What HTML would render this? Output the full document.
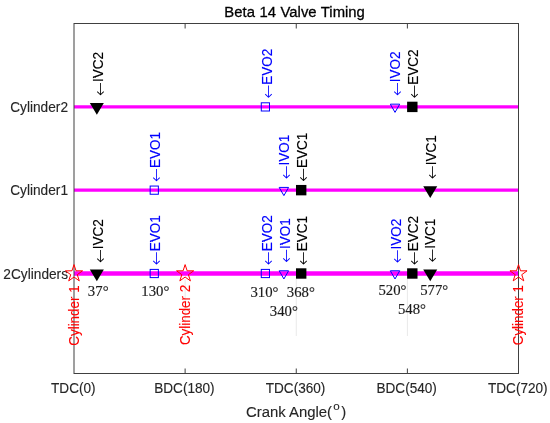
<!DOCTYPE html>
<html lang="en"><head><meta charset="utf-8"><title>Beta 14 Valve Timing</title>
<style>html,body{margin:0;padding:0;background:#fff}body{width:550px;height:423px;overflow:hidden}svg{display:block}text{font-family:"Liberation Sans",sans-serif;font-size:13.33px;fill:#262626;stroke:#262626;stroke-width:0.12px}.deg{font-family:"Liberation Serif",serif;font-size:14px;fill:#1a1a1a;stroke:#1a1a1a;stroke-width:0.15px}.ar{font-family:"DejaVu Sans Light","DejaVu Sans","Liberation Sans",sans-serif;font-weight:200;font-size:16.6px}</style></head><body>
<svg width="550" height="423" viewBox="0 0 550 423">
<rect x="0" y="0" width="550" height="423" fill="#ffffff"/>
<line x1="185.12" y1="279" x2="185.12" y2="336" stroke="#e9e9e9" stroke-width="1"/>
<line x1="296.25" y1="279" x2="296.25" y2="336" stroke="#e9e9e9" stroke-width="1"/>
<line x1="407.38" y1="279" x2="407.38" y2="336" stroke="#e9e9e9" stroke-width="1"/>
<line x1="74.0" y1="106.9" x2="518.5" y2="106.9" stroke="#ff00ff" stroke-width="3.2"/>
<line x1="74.0" y1="190.15" x2="518.5" y2="190.15" stroke="#ff00ff" stroke-width="3.2"/>
<line x1="74.0" y1="273.5" x2="518.5" y2="273.5" stroke="#ff00ff" stroke-width="4.4"/>
<rect x="74.0" y="23.5" width="444.5" height="350.0" fill="none" stroke="#404040" stroke-width="1"/>
<line x1="185.12" y1="373.5" x2="185.12" y2="368.5" stroke="#404040" stroke-width="1"/>
<line x1="185.12" y1="23.5" x2="185.12" y2="28.5" stroke="#404040" stroke-width="1"/>
<line x1="296.25" y1="373.5" x2="296.25" y2="368.5" stroke="#404040" stroke-width="1"/>
<line x1="296.25" y1="23.5" x2="296.25" y2="28.5" stroke="#404040" stroke-width="1"/>
<line x1="407.38" y1="373.5" x2="407.38" y2="368.5" stroke="#404040" stroke-width="1"/>
<line x1="407.38" y1="23.5" x2="407.38" y2="28.5" stroke="#404040" stroke-width="1"/>
<text transform="translate(294.6,17.3) scale(1,1.03)" text-anchor="middle" style="font-size:14.85px;word-spacing:0.45px;fill:#000;stroke:#000;stroke-width:0.28px">Beta 14 Valve Timing</text>
<text transform="translate(73.30,392.75) scale(1,1.015)" text-anchor="middle" style="font-size:13.6px">TDC(0)</text>
<text transform="translate(184.43,392.75) scale(1,1.015)" text-anchor="middle" style="font-size:13.6px">BDC(180)</text>
<text transform="translate(295.55,392.75) scale(1,1.015)" text-anchor="middle" style="font-size:13.6px">TDC(360)</text>
<text transform="translate(406.68,392.75) scale(1,1.015)" text-anchor="middle" style="font-size:13.6px">BDC(540)</text>
<text transform="translate(517.80,392.75) scale(1,1.015)" text-anchor="middle" style="font-size:13.6px">TDC(720)</text>
<text x="246.0" y="417.0" style="font-size:14.9px">Crank Angle(<tspan dx="1.1" dy="-6.9" style="font-size:11.6px">o</tspan><tspan dx="1.5" dy="6.9">)</tspan></text>
<text transform="translate(68.0,111.70) scale(1,1.03)" text-anchor="end" style="font-size:13.7px">Cylinder2</text>
<text transform="translate(68.0,195.05) scale(1,1.03)" text-anchor="end" style="font-size:13.7px">Cylinder1</text>
<text transform="translate(68.0,279.20) scale(1,1.03)" text-anchor="end" style="font-size:13.7px">2Cylinders</text>
<polygon points="89.84,102.97 103.84,102.97 96.84,114.77" fill="#000"/>
<text transform="translate(103.24,95.90) rotate(-90) scale(1,1.06)" style="fill:#000;stroke:#000;stroke-width:0.14px;font-size:13.5px"><tspan class="ar" dy="2.2" style="stroke:none">←</tspan><tspan dy="-2.2">IVC2</tspan></text>
<rect x="261.28" y="102.80" width="8.2" height="8.2" fill="none" stroke="#0000ff" stroke-width="1"/>
<text transform="translate(271.78,98.60) rotate(-90) scale(1,1.06)" style="fill:#0000ff;stroke:#0000ff;stroke-width:0.14px;font-size:13.5px"><tspan class="ar" dy="2.2" style="stroke:none">←</tspan><tspan dy="-2.2">EVO2</tspan></text>
<polygon points="390.33,104.17 399.73,104.17 395.03,112.37" fill="none" stroke="#0000ff" stroke-width="1"/>
<text transform="translate(400.33,96.10) rotate(-90) scale(1,1.06)" style="fill:#0000ff;stroke:#0000ff;stroke-width:0.14px;font-size:13.5px"><tspan class="ar" dy="2.2" style="stroke:none">←</tspan><tspan dy="-2.2">IVO2</tspan></text>
<rect x="407.11" y="101.70" width="10.4" height="10.4" fill="#000"/>
<text transform="translate(417.81,98.60) rotate(-90) scale(1,1.06)" style="fill:#000;stroke:#000;stroke-width:0.14px;font-size:13.5px"><tspan class="ar" dy="2.2" style="stroke:none">←</tspan><tspan dy="-2.2">EVC2</tspan></text>
<polygon points="89.84,269.57 103.84,269.57 96.84,281.37" fill="#000"/>
<text transform="translate(103.24,263.10) rotate(-90) scale(1,1.06)" style="fill:#000;stroke:#000;stroke-width:0.14px;font-size:13.5px"><tspan class="ar" dy="2.2" style="stroke:none">←</tspan><tspan dy="-2.2">IVC2</tspan></text>
<rect x="261.28" y="269.40" width="8.2" height="8.2" fill="none" stroke="#0000ff" stroke-width="1"/>
<text transform="translate(271.68,265.20) rotate(-90) scale(1,1.06)" style="fill:#0000ff;stroke:#0000ff;stroke-width:0.14px;font-size:13.5px"><tspan class="ar" dy="2.2" style="stroke:none">←</tspan><tspan dy="-2.2">EVO2</tspan></text>
<polygon points="390.33,270.77 399.73,270.77 395.03,278.97" fill="none" stroke="#0000ff" stroke-width="1"/>
<text transform="translate(400.63,263.30) rotate(-90) scale(1,1.06)" style="fill:#0000ff;stroke:#0000ff;stroke-width:0.14px;font-size:13.5px"><tspan class="ar" dy="2.2" style="stroke:none">←</tspan><tspan dy="-2.2">IVO2</tspan></text>
<rect x="407.11" y="268.30" width="10.4" height="10.4" fill="#000"/>
<text transform="translate(417.61,265.20) rotate(-90) scale(1,1.06)" style="fill:#000;stroke:#000;stroke-width:0.14px;font-size:13.5px"><tspan class="ar" dy="2.2" style="stroke:none">←</tspan><tspan dy="-2.2">EVC2</tspan></text>
<rect x="150.16" y="186.05" width="8.2" height="8.2" fill="none" stroke="#0000ff" stroke-width="1"/>
<text transform="translate(160.06,181.95) rotate(-90) scale(1,1.06)" style="fill:#0000ff;stroke:#0000ff;stroke-width:0.14px;font-size:13.5px"><tspan class="ar" dy="2.2" style="stroke:none">←</tspan><tspan dy="-2.2">EVO1</tspan></text>
<polygon points="279.20,187.42 288.60,187.42 283.90,195.62" fill="none" stroke="#0000ff" stroke-width="1"/>
<text transform="translate(289.20,179.35) rotate(-90) scale(1,1.06)" style="fill:#0000ff;stroke:#0000ff;stroke-width:0.14px;font-size:13.5px"><tspan class="ar" dy="2.2" style="stroke:none">←</tspan><tspan dy="-2.2">IVO1</tspan></text>
<rect x="295.99" y="184.95" width="10.4" height="10.4" fill="#000"/>
<text transform="translate(306.69,181.85) rotate(-90) scale(1,1.06)" style="fill:#000;stroke:#000;stroke-width:0.14px;font-size:13.5px"><tspan class="ar" dy="2.2" style="stroke:none">←</tspan><tspan dy="-2.2">EVC1</tspan></text>
<polygon points="423.22,186.22 437.22,186.22 430.22,198.02" fill="#000"/>
<text transform="translate(435.72,179.15) rotate(-90) scale(1,1.06)" style="fill:#000;stroke:#000;stroke-width:0.14px;font-size:13.5px"><tspan class="ar" dy="2.2" style="stroke:none">←</tspan><tspan dy="-2.2">IVC1</tspan></text>
<rect x="150.16" y="269.40" width="8.2" height="8.2" fill="none" stroke="#0000ff" stroke-width="1"/>
<text transform="translate(160.06,265.20) rotate(-90) scale(1,1.06)" style="fill:#0000ff;stroke:#0000ff;stroke-width:0.14px;font-size:13.5px"><tspan class="ar" dy="2.2" style="stroke:none">←</tspan><tspan dy="-2.2">EVO1</tspan></text>
<polygon points="279.20,270.77 288.60,270.77 283.90,278.97" fill="none" stroke="#0000ff" stroke-width="1"/>
<text transform="translate(289.60,262.80) rotate(-90) scale(1,1.06)" style="fill:#0000ff;stroke:#0000ff;stroke-width:0.14px;font-size:13.5px"><tspan class="ar" dy="2.2" style="stroke:none">←</tspan><tspan dy="-2.2">IVO1</tspan></text>
<rect x="295.99" y="268.30" width="10.4" height="10.4" fill="#000"/>
<text transform="translate(307.09,265.20) rotate(-90) scale(1,1.06)" style="fill:#000;stroke:#000;stroke-width:0.14px;font-size:13.5px"><tspan class="ar" dy="2.2" style="stroke:none">←</tspan><tspan dy="-2.2">EVC1</tspan></text>
<polygon points="423.22,269.57 437.22,269.57 430.22,281.37" fill="#000"/>
<text transform="translate(435.42,262.60) rotate(-90) scale(1,1.06)" style="fill:#000;stroke:#000;stroke-width:0.14px;font-size:13.5px"><tspan class="ar" dy="2.2" style="stroke:none">←</tspan><tspan dy="-2.2">IVC1</tspan></text>
<polygon points="74.00,264.60 76.02,270.82 82.56,270.82 77.27,274.66 79.29,280.88 74.00,277.04 68.71,280.88 70.73,274.66 65.44,270.82 71.98,270.82" fill="none" stroke="#ff0000" stroke-width="1"/>
<text transform="translate(78.60,285.40) rotate(-90) scale(1,1.06)" text-anchor="end" style="fill:#ff0000;stroke:#ff0000;stroke-width:0.1px;font-size:13.4px">Cylinder 1</text>
<polygon points="185.12,264.60 187.15,270.82 193.68,270.82 188.39,274.66 190.42,280.88 185.12,277.04 179.83,280.88 181.86,274.66 176.57,270.82 183.10,270.82" fill="none" stroke="#ff0000" stroke-width="1"/>
<text transform="translate(189.72,284.80) rotate(-90) scale(1,1.06)" text-anchor="end" style="fill:#ff0000;stroke:#ff0000;stroke-width:0.1px;font-size:13.4px">Cylinder 2</text>
<polygon points="518.50,264.60 520.52,270.82 527.06,270.82 521.77,274.66 523.79,280.88 518.50,277.04 513.21,280.88 515.23,274.66 509.94,270.82 516.48,270.82" fill="none" stroke="#ff0000" stroke-width="1"/>
<text transform="translate(523.10,285.00) rotate(-90) scale(1,1.06)" text-anchor="end" style="fill:#ff0000;stroke:#ff0000;stroke-width:0.1px;font-size:13.4px">Cylinder 1</text>
<text class="deg" transform="translate(98.20,296.20) scale(1.055,1)" text-anchor="middle">37°</text>
<text class="deg" transform="translate(155.35,296.20) scale(1.055,1)" text-anchor="middle">130°</text>
<text class="deg" transform="translate(264.50,296.60) scale(1.055,1)" text-anchor="middle">310°</text>
<text class="deg" transform="translate(300.85,296.50) scale(1.055,1)" text-anchor="middle">368°</text>
<text class="deg" transform="translate(283.80,315.50) scale(1.055,1)" text-anchor="middle">340°</text>
<text class="deg" transform="translate(392.40,294.60) scale(1.055,1)" text-anchor="middle">520°</text>
<text class="deg" transform="translate(434.20,294.60) scale(1.055,1)" text-anchor="middle">577°</text>
<text class="deg" transform="translate(411.90,313.70) scale(1.055,1)" text-anchor="middle">548°</text>
</svg>
</body></html>
